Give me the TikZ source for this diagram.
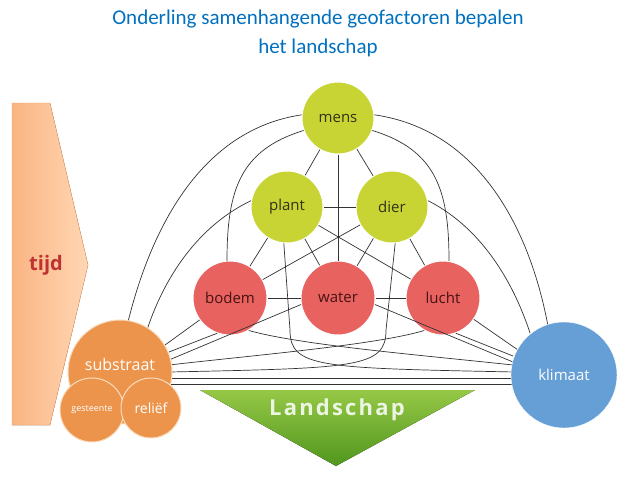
\documentclass[tikz,border=0pt]{standalone}
\usepackage{fontspec}
\setmainfont{Open Sans}
\newfontfamily\titlefont{Carlito}
\begin{document}
\begin{tikzpicture}[x=1pt,y=-1pt,
  con/.style={draw=black!80,line width=0.7pt},
  green/.style={circle,fill={rgb,255:red,200;green,212;blue,52},draw=white,line width=1pt,minimum size=72pt,font=\fontsize{15}{17}\selectfont,text={rgb,255:red,50;green,50;blue,20}},
  red/.style={circle,fill={rgb,255:red,232;green,98;blue,96},draw=white,line width=1pt,minimum size=74pt,font=\fontsize{15}{17}\selectfont,text={rgb,255:red,70;green,20;blue,20}},
  orng/.style={circle,fill={rgb,255:red,236;green,148;blue,76},draw={rgb,255:red,250;green,220;blue,190},line width=1pt,text=white}]
\useasboundingbox (0,0) rectangle (638,479);
\fill[white] (0,0) rectangle (638,479);
\node[font=\titlefont\fontsize{21}{29}\selectfont,text={rgb,255:red,0;green,112;blue,192},align=center] (title) at (318,33) {Onderling samenhangende geofactoren bepalen\\het landschap};
% tijd arrow
\fill[left color={rgb,255:red,250;green,180;blue,130},right color={rgb,255:red,255;green,215;blue,180},draw={rgb,255:red,240;green,160;blue,110}] (12,103) -- (50,103) -- (88,265) -- (50,425) -- (12,425) -- cycle;
\node[font=\bfseries\fontsize{20}{22}\selectfont,text={rgb,255:red,190;green,50;blue,50}] (tijd) at (46,265) {tijd};
% nodes
\node[green] (mens) at (338,118) {mens};
\node[green] (plant) at (287,207) {plant};
\node[green] (dier) at (392,207) {dier};
\node[red] (bodem) at (230,298) {bodem};
\node[red] (water) at (338,298) {water};
\node[red] (lucht) at (443,298) {lucht};
% connectors
\draw[con] (mens) -- (plant);
\draw[con] (mens) -- (dier);
\draw[con] (plant) -- (dier);
\draw[con] (plant) -- (bodem);
\draw[con] (plant) -- (water);
\draw[con] (dier) -- (water);
\draw[con] (dier) -- (lucht);
\draw[con] (bodem) -- (water);
\draw[con] (water) -- (lucht);
\draw[con] (mens) -- (water);
\draw[con] (plant) -- (lucht);
\draw[con] (dier) -- (bodem);
\draw[con] (mens.175) .. controls (200,130) and (150,230) .. (127,326);
\draw[con] (mens.5) .. controls (480,130) and (530,230) .. (548,326);
\draw[con] (mens.200) .. controls (240,150) and (227,190) .. (227,261);
\draw[con] (mens.340) .. controls (436,150) and (449,190) .. (449,261);
\draw[con] (plant.170) .. controls (190,230) and (160,290) .. (147,330);
\draw[con] (dier.10) .. controls (486,230) and (516,290) .. (530,333);
\draw[con] (bodem) -- (165,345);
\draw[con] (lucht) -- (518,350);
\draw[con] (plant.265) -- (290,330) .. controls (290,368) and (320,368) .. (515,372);
\draw[con] (dier.275) -- (386,330) .. controls (386,368) and (356,368) .. (170,372);
\draw[con] (water.190) -- (169,360);
\draw[con] (water.350) -- (513,362);
\draw[con] (bodem.300) .. controls (300,345) and (420,355) .. (513,365);
\draw[con] (lucht.240) .. controls (376,345) and (256,355) .. (169,365);
\draw[con] (bodem.250) -- (169,352);
\draw[con] (lucht.290) -- (513,356);
\draw[con] (170,378) -- (513,378);
\draw[con] (170,384) -- (513,384);
% substraat group
\node[orng,minimum size=104pt,font=\fontsize{16}{18}\selectfont,inner sep=0pt] (substraat) at (120,372) {\raisebox{16pt}{substraat}};
\node[orng,minimum size=64pt,font=\fontsize{9}{10}\selectfont,inner sep=0pt] (gesteente) at (92,410) {gesteente};
\node[orng,minimum size=60pt,font=\fontsize{14}{16}\selectfont,inner sep=0pt] (relief) at (151,408) {reliëf};
\node[circle,fill={rgb,255:red,102;green,158;blue,214},draw=white,minimum size=106pt,text=white,font=\fontsize{15}{17}\selectfont] (klimaat) at (564,375) {klimaat};
% landschap
\fill[top color={rgb,255:red,150;green,200;blue,70},bottom color={rgb,255:red,80;green,150;blue,30}] (200,390) -- (475,390) -- (336,466) -- cycle;
\node[font=\bfseries\fontsize{22}{24}\selectfont,text={rgb,255:red,235;green,245;blue,225}] (land) at (337,410) {\addfontfeature{LetterSpace=10}Landschap};
\end{tikzpicture}
\end{document}
